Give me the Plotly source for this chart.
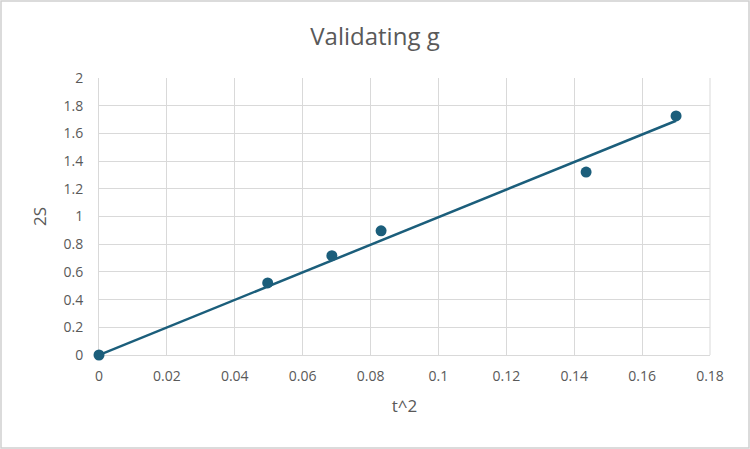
import numpy as np
import plotly.graph_objects as go

t2 = [0, 0.0497, 0.0686, 0.0831, 0.1435, 0.170]
two_s = [0, 0.520, 0.717, 0.897, 1.321, 1.726]

x_ticks = [0, 0.02, 0.04, 0.06, 0.08, 0.1, 0.12, 0.14, 0.16, 0.18]
x_tick_labels = ["0", "0.02", "0.04", "0.06", "0.08", "0.1", "0.12", "0.14", "0.16", "0.18"]
y_ticks = [0, 0.2, 0.4, 0.6, 0.8, 1, 1.2, 1.4, 1.6, 1.8, 2]
y_tick_labels = ["0", "0.2", "0.4", "0.6", "0.8", "1", "1.2", "1.4", "1.6", "1.8", "2"]

xa = np.array(t2)
ya = np.array(two_s)
slope = float((xa * ya).sum() / (xa * xa).sum())
fit_x = [min(t2), max(t2)]
fit_y = [slope * v for v in fit_x]

color = "#1b5e7b"
txt = "#595959"
grid = "#d9d9d9"

fig = go.Figure()
fig.add_trace(go.Scatter(x=fit_x, y=fit_y, mode="lines", cliponaxis=False,
                         line=dict(color=color, width=2.5), hoverinfo="skip"))
fig.add_trace(go.Scatter(x=t2, y=two_s, mode="markers", cliponaxis=False,
                         marker=dict(color=color, size=11)))

W, H = 750, 449
L, R, T, B = 99, 40, 78, 94
pw, ph = W - L - R, H - T - B

fig.update_layout(
    width=W, height=H,
    margin=dict(l=L, r=R, t=T, b=B),
    paper_bgcolor="white", plot_bgcolor="white",
    showlegend=False,
    font=dict(family="Open Sans, Liberation Sans, sans-serif", color=txt, size=14),
    title=dict(text="Validating g", x=0.5, xanchor="center", y=1 - 37 / H, yanchor="middle",
               font=dict(size=24, color=txt)),
    xaxis=dict(range=[0, 0.18], tickvals=x_ticks, ticktext=x_tick_labels,
               showgrid=True, gridcolor=grid, gridwidth=1, zeroline=False,
               showline=True, linecolor=grid, linewidth=1, mirror=False,
               ticks="", ticklabelstandoff=8, layer="below traces",
               tickfont=dict(size=14, color=txt),
               title=dict(text="t^2", font=dict(size=17, color=txt), standoff=16)),
    yaxis=dict(range=[0, 2], tickvals=y_ticks, ticktext=y_tick_labels,
               showgrid=True, gridcolor=grid, gridwidth=1, zeroline=False,
               showline=True, linecolor=grid, linewidth=1,
               ticks="", ticklabelstandoff=12, layer="below traces",
               tickfont=dict(size=14, color=txt),
               title=dict(text="2S", font=dict(size=17, color=txt), standoff=12)),
)

# right edge gridline
fig.add_shape(type="line", xref="paper", yref="paper", x0=1, x1=1, y0=0, y1=1,
              line=dict(color=grid, width=1), layer="below")
# chart outer border
fig.add_shape(type="rect", xref="paper", yref="paper",
              x0=(-L + 1) / pw, x1=(pw + R - 1) / pw,
              y0=(-B + 1) / ph, y1=(ph + T - 1) / ph,
              line=dict(color="#d0d0d0", width=1.5))

fig.write_html("out.html", config={"displayModeBar": False},
               post_script="document.body.style.margin='0';document.body.style.overflow='hidden';")
